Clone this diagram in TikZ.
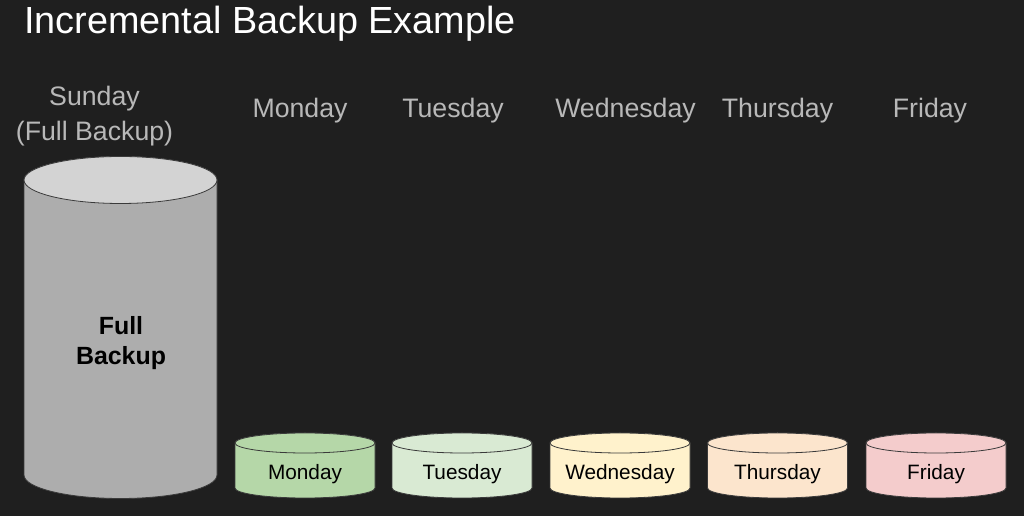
\documentclass[tikz,border=0pt]{standalone}
\usepackage{fontspec}
\setmainfont{Liberation Sans}
\definecolor{bg}{HTML}{1F1F1F}
\definecolor{daygray}{HTML}{B8B8B8}
\definecolor{fullbody}{HTML}{ADADAD}
\definecolor{fulltop}{HTML}{D3D3D3}
\definecolor{monfill}{HTML}{B5D7A8}
\definecolor{tuefill}{HTML}{D9EAD3}
\definecolor{wedfill}{HTML}{FFF2CC}
\definecolor{thufill}{HTML}{FCE5CD}
\definecolor{frifill}{HTML}{F4CCCC}
\definecolor{cylstroke}{HTML}{3A3A3A}
\newcommand\drawcyl[8]{% #1 name, #2 cx, #3 half-width, #4 Ytop, #5 Ybot, #6 ry, #7 fill, #8 topfill
  \filldraw[cylline, fill=#7] ({#2-#3},#4) -- ({#2-#3},#5)
    arc[start angle=180,end angle=360,x radius=#3pt,y radius=#6pt]
    -- ({#2+#3},#4)
    arc[start angle=0,end angle=180,x radius=#3pt,y radius=#6pt] -- cycle;
  \filldraw[cylline, fill=#8] (#2,#4) ellipse[x radius=#3pt, y radius=#6pt];
  \coordinate (#1) at (#2,{(#4+#5)/2});
}
\tikzset{
  cylline/.style={draw=cylstroke, line width=0.8pt},
  title/.style={text=white, inner sep=0pt, anchor=base west, font=\fontsize{37.8}{44}\selectfont},
  daylabel/.style={text=daygray, inner sep=0pt, anchor=base, font=\fontsize{26.7}{32}\selectfont},
  cyllabel/.style={text=black, inner sep=0pt, anchor=base, font=\fontsize{20.8}{25}\selectfont},
  fulllabel/.style={text=black, inner sep=0pt, anchor=base, font=\bfseries\fontsize{24.9}{30}\selectfont},
}
\begin{document}
\begin{tikzpicture}[x=1pt,y=1pt]
\fill[bg] (0,0) rectangle (1024,516);
\useasboundingbox (0,0) rectangle (1024,516);

\node[title] (title) at (24,482) {Incremental Backup Example};

\node[daylabel] (sun1) at (94.5,410) {Sunday};
\node[daylabel] (sun2) at (94.5,375) {(Full Backup)};
\node[daylabel] (monhead) at (300,398) {Monday};
\node[daylabel] (tuehead) at (453,398) {Tuesday};
\node[daylabel] (wedhead) at (625.5,398) {Wednesday};
\node[daylabel] (thuhead) at (777.5,398) {Thursday};
\node[daylabel] (frihead) at (930,398) {Friday};

\drawcyl{full}{120.5}{96.5}{336}{41}{23.5}{fullbody}{fulltop}
\node[fulllabel] (fulltxt1) at (121,181) {Full};
\node[fulllabel] (fulltxt2) at (121,151) {Backup};

\drawcyl{mon}{305}{70}{73}{28}{10}{monfill}{monfill}
\drawcyl{tue}{462}{70}{73}{28}{10}{tuefill}{tuefill}
\drawcyl{wed}{620}{70}{73}{28}{10}{wedfill}{wedfill}
\drawcyl{thu}{777.5}{70}{73}{28}{10}{thufill}{thufill}
\drawcyl{fri}{936}{70}{73}{28}{10}{frifill}{frifill}

\node[cyllabel] (montxt) at (305,36) {Monday};
\node[cyllabel] (tuetxt) at (462,36) {Tuesday};
\node[cyllabel] (wedtxt) at (620,36) {Wednesday};
\node[cyllabel] (thutxt) at (777.5,36) {Thursday};
\node[cyllabel] (fritxt) at (936,36) {Friday};
\end{tikzpicture}
\end{document}
